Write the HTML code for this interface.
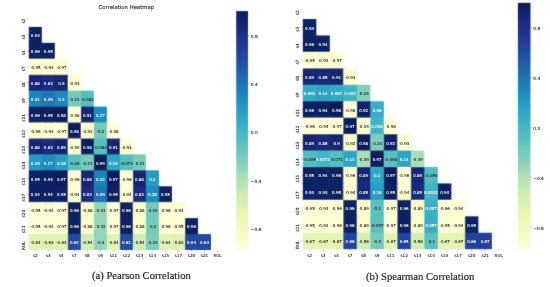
<!DOCTYPE html>
<html><head><meta charset="utf-8"><title>Correlation Heatmaps</title>
<style>
html,body{margin:0;padding:0;background:#fff;}
body{width:550px;height:287px;overflow:hidden;position:relative;}
svg{position:absolute;left:0;top:0;display:block;}
svg text{font-family:"DejaVu Sans","Liberation Sans",sans-serif;stroke-width:0.1px;text-rendering:geometricPrecision;}
svg text.d{stroke:#262626;}
svg text.w{stroke:#fff;}
.cap{position:absolute;font-family:"Liberation Serif",serif;font-size:11.1px;transform:scaleX(0.955);transform-origin:0 0;-webkit-text-stroke:0.15px #1a1a1a;color:#1a1a1a;white-space:nowrap;line-height:1;}
</style></head><body>
<svg width="550" height="287" viewBox="0 0 550 287">
<defs><linearGradient id="g" x1="0" y1="0" x2="0" y2="1"><stop offset="0.0000" stop-color="#081d58"/><stop offset="0.0312" stop-color="#0f2367"/><stop offset="0.0625" stop-color="#162874"/><stop offset="0.0938" stop-color="#1d2e83"/><stop offset="0.1250" stop-color="#243392"/><stop offset="0.1562" stop-color="#243d98"/><stop offset="0.1875" stop-color="#24489d"/><stop offset="0.2188" stop-color="#2352a3"/><stop offset="0.2500" stop-color="#225ea8"/><stop offset="0.2812" stop-color="#216aad"/><stop offset="0.3125" stop-color="#2076b3"/><stop offset="0.3438" stop-color="#1e83ba"/><stop offset="0.3750" stop-color="#1d90c0"/><stop offset="0.4062" stop-color="#259ac1"/><stop offset="0.4375" stop-color="#2ea3c2"/><stop offset="0.4688" stop-color="#37acc3"/><stop offset="0.5000" stop-color="#40b5c4"/><stop offset="0.5312" stop-color="#50bbc2"/><stop offset="0.5625" stop-color="#5fc1c0"/><stop offset="0.5938" stop-color="#6fc7bd"/><stop offset="0.6250" stop-color="#80cebb"/><stop offset="0.6562" stop-color="#90d4b9"/><stop offset="0.6875" stop-color="#a5dcb7"/><stop offset="0.7188" stop-color="#b4e2b6"/><stop offset="0.7500" stop-color="#c6e9b4"/><stop offset="0.7812" stop-color="#d0edb3"/><stop offset="0.8125" stop-color="#daf0b3"/><stop offset="0.8438" stop-color="#e5f5b2"/><stop offset="0.8750" stop-color="#edf8b1"/><stop offset="0.9062" stop-color="#f2fabc"/><stop offset="0.9375" stop-color="#f6fbc5"/><stop offset="0.9688" stop-color="#fbfdd0"/><stop offset="1.0000" stop-color="#ffffd9"/></linearGradient><filter id="b" x="0" y="0" width="550" height="287" filterUnits="userSpaceOnUse"><feConvolveMatrix order="3" kernelMatrix="0 1 0 1 5 1 0 1 0" divisor="9" edgeMode="duplicate" preserveAlpha="false"/></filter></defs>
<g filter="url(#b)">
<rect x="28.80" y="26.93" width="13.01" height="16.93" fill="#0e2265"/>
<rect x="28.80" y="42.87" width="14.01" height="16.93" fill="#0d2161"/>
<rect x="41.81" y="42.87" width="13.01" height="16.93" fill="#0d2163"/>
<rect x="28.80" y="58.80" width="14.01" height="16.93" fill="#fdfed5"/>
<rect x="41.81" y="58.80" width="14.01" height="16.93" fill="#fcfed1"/>
<rect x="54.83" y="58.80" width="13.01" height="16.93" fill="#feffd8"/>
<rect x="28.80" y="74.73" width="14.01" height="16.93" fill="#162874"/>
<rect x="41.81" y="74.73" width="14.01" height="16.93" fill="#1b2c80"/>
<rect x="54.83" y="74.73" width="14.01" height="16.93" fill="#13266f"/>
<rect x="67.84" y="74.73" width="13.01" height="16.93" fill="#fcfed1"/>
<rect x="28.80" y="90.67" width="14.01" height="16.93" fill="#1e86bb"/>
<rect x="41.81" y="90.67" width="14.01" height="16.93" fill="#2075b3"/>
<rect x="54.83" y="90.67" width="14.01" height="16.93" fill="#1e88bc"/>
<rect x="67.84" y="90.67" width="14.01" height="16.93" fill="#78cbbc"/>
<rect x="80.85" y="90.67" width="13.01" height="16.93" fill="#57bec1"/>
<rect x="28.80" y="106.60" width="14.01" height="16.93" fill="#0d2161"/>
<rect x="41.81" y="106.60" width="14.01" height="16.93" fill="#0d2163"/>
<rect x="54.83" y="106.60" width="14.01" height="16.93" fill="#0a1e5c"/>
<rect x="67.84" y="106.60" width="14.01" height="16.93" fill="#ffffd9"/>
<rect x="80.85" y="106.60" width="14.01" height="16.93" fill="#12256d"/>
<rect x="93.87" y="106.60" width="13.01" height="16.93" fill="#1d8ebf"/>
<rect x="28.80" y="122.53" width="14.01" height="16.93" fill="#feffd6"/>
<rect x="41.81" y="122.53" width="14.01" height="16.93" fill="#fcfed1"/>
<rect x="54.83" y="122.53" width="14.01" height="16.93" fill="#feffd8"/>
<rect x="67.84" y="122.53" width="14.01" height="16.93" fill="#0a1e5c"/>
<rect x="80.85" y="122.53" width="14.01" height="16.93" fill="#fcfed1"/>
<rect x="93.87" y="122.53" width="14.01" height="16.93" fill="#76cabc"/>
<rect x="106.88" y="122.53" width="13.01" height="16.93" fill="#ffffd9"/>
<rect x="28.80" y="138.47" width="14.01" height="16.93" fill="#162874"/>
<rect x="41.81" y="138.47" width="14.01" height="16.93" fill="#1b2c80"/>
<rect x="54.83" y="138.47" width="14.01" height="16.93" fill="#152772"/>
<rect x="67.84" y="138.47" width="14.01" height="16.93" fill="#fbfdd0"/>
<rect x="80.85" y="138.47" width="14.01" height="16.93" fill="#0a1e5c"/>
<rect x="93.87" y="138.47" width="14.01" height="16.93" fill="#59bfc0"/>
<rect x="106.88" y="138.47" width="14.01" height="16.93" fill="#12256d"/>
<rect x="119.89" y="138.47" width="13.01" height="16.93" fill="#fcfed1"/>
<rect x="28.80" y="154.40" width="14.01" height="16.93" fill="#269bc1"/>
<rect x="41.81" y="154.40" width="14.01" height="16.93" fill="#1d8ebf"/>
<rect x="54.83" y="154.40" width="14.01" height="16.93" fill="#299dc1"/>
<rect x="67.84" y="154.40" width="14.01" height="16.93" fill="#59bfc0"/>
<rect x="80.85" y="154.40" width="14.01" height="16.93" fill="#78cbbc"/>
<rect x="93.87" y="154.40" width="14.01" height="16.93" fill="#091e5a"/>
<rect x="106.88" y="154.40" width="14.01" height="16.93" fill="#2ea3c2"/>
<rect x="119.89" y="154.40" width="14.01" height="16.93" fill="#55bec1"/>
<rect x="132.91" y="154.40" width="13.01" height="16.93" fill="#78cbbc"/>
<rect x="28.80" y="170.33" width="14.01" height="16.93" fill="#0d2163"/>
<rect x="41.81" y="170.33" width="14.01" height="16.93" fill="#0e2265"/>
<rect x="54.83" y="170.33" width="14.01" height="16.93" fill="#0b1f5e"/>
<rect x="67.84" y="170.33" width="14.01" height="16.93" fill="#feffd6"/>
<rect x="80.85" y="170.33" width="14.01" height="16.93" fill="#162874"/>
<rect x="93.87" y="170.33" width="14.01" height="16.93" fill="#1e83ba"/>
<rect x="106.88" y="170.33" width="14.01" height="16.93" fill="#0b1f5e"/>
<rect x="119.89" y="170.33" width="14.01" height="16.93" fill="#feffd6"/>
<rect x="132.91" y="170.33" width="14.01" height="16.93" fill="#162874"/>
<rect x="145.92" y="170.33" width="13.01" height="16.93" fill="#259ac1"/>
<rect x="28.80" y="186.27" width="14.01" height="16.93" fill="#0e2265"/>
<rect x="41.81" y="186.27" width="14.01" height="16.93" fill="#0e2265"/>
<rect x="54.83" y="186.27" width="14.01" height="16.93" fill="#0d2163"/>
<rect x="67.84" y="186.27" width="14.01" height="16.93" fill="#fcfed3"/>
<rect x="80.85" y="186.27" width="14.01" height="16.93" fill="#1b2c80"/>
<rect x="93.87" y="186.27" width="14.01" height="16.93" fill="#2075b3"/>
<rect x="106.88" y="186.27" width="14.01" height="16.93" fill="#0d2163"/>
<rect x="119.89" y="186.27" width="14.01" height="16.93" fill="#fcfed3"/>
<rect x="132.91" y="186.27" width="14.01" height="16.93" fill="#1b2c80"/>
<rect x="145.92" y="186.27" width="14.01" height="16.93" fill="#1d8dbe"/>
<rect x="158.93" y="186.27" width="13.01" height="16.93" fill="#0d2163"/>
<rect x="28.80" y="202.20" width="14.01" height="16.93" fill="#fdfed5"/>
<rect x="41.81" y="202.20" width="14.01" height="16.93" fill="#fcfed3"/>
<rect x="54.83" y="202.20" width="14.01" height="16.93" fill="#feffd8"/>
<rect x="67.84" y="202.20" width="14.01" height="16.93" fill="#0d2161"/>
<rect x="80.85" y="202.20" width="14.01" height="16.93" fill="#f8fcca"/>
<rect x="93.87" y="202.20" width="14.01" height="16.93" fill="#95d5b9"/>
<rect x="106.88" y="202.20" width="14.01" height="16.93" fill="#feffd8"/>
<rect x="119.89" y="202.20" width="14.01" height="16.93" fill="#0d2161"/>
<rect x="132.91" y="202.20" width="14.01" height="16.93" fill="#f8fcca"/>
<rect x="145.92" y="202.20" width="14.01" height="16.93" fill="#73c8bd"/>
<rect x="158.93" y="202.20" width="14.01" height="16.93" fill="#feffd6"/>
<rect x="171.95" y="202.20" width="13.01" height="16.93" fill="#fcfed3"/>
<rect x="28.80" y="218.13" width="14.01" height="16.93" fill="#fdfed5"/>
<rect x="41.81" y="218.13" width="14.01" height="16.93" fill="#fcfed3"/>
<rect x="54.83" y="218.13" width="14.01" height="16.93" fill="#feffd8"/>
<rect x="67.84" y="218.13" width="14.01" height="16.93" fill="#0d2161"/>
<rect x="80.85" y="218.13" width="14.01" height="16.93" fill="#f8fcca"/>
<rect x="93.87" y="218.13" width="14.01" height="16.93" fill="#97d6b9"/>
<rect x="106.88" y="218.13" width="14.01" height="16.93" fill="#feffd8"/>
<rect x="119.89" y="218.13" width="14.01" height="16.93" fill="#0d2161"/>
<rect x="132.91" y="218.13" width="14.01" height="16.93" fill="#f8fcca"/>
<rect x="145.92" y="218.13" width="14.01" height="16.93" fill="#76cabc"/>
<rect x="158.93" y="218.13" width="14.01" height="16.93" fill="#feffd6"/>
<rect x="171.95" y="218.13" width="14.01" height="16.93" fill="#fdfed5"/>
<rect x="184.96" y="218.13" width="13.01" height="16.93" fill="#0d2161"/>
<rect x="28.80" y="234.07" width="14.01" height="15.93" fill="#e0f3b2"/>
<rect x="41.81" y="234.07" width="14.01" height="15.93" fill="#ddf2b2"/>
<rect x="54.83" y="234.07" width="14.01" height="15.93" fill="#e0f3b2"/>
<rect x="67.84" y="234.07" width="14.01" height="15.93" fill="#234b9f"/>
<rect x="80.85" y="234.07" width="14.01" height="15.93" fill="#d0edb3"/>
<rect x="93.87" y="234.07" width="14.01" height="15.93" fill="#92d5b9"/>
<rect x="106.88" y="234.07" width="14.01" height="15.93" fill="#e0f3b2"/>
<rect x="119.89" y="234.07" width="14.01" height="15.93" fill="#234b9f"/>
<rect x="132.91" y="234.07" width="14.01" height="15.93" fill="#d0edb3"/>
<rect x="145.92" y="234.07" width="14.01" height="15.93" fill="#7ecdbb"/>
<rect x="158.93" y="234.07" width="14.01" height="15.93" fill="#e0f3b2"/>
<rect x="171.95" y="234.07" width="14.01" height="15.93" fill="#ddf2b2"/>
<rect x="184.96" y="234.07" width="14.01" height="15.93" fill="#24489d"/>
<rect x="197.97" y="234.07" width="13.01" height="15.93" fill="#24489d"/>
<line x1="35.31" y1="250.00" x2="35.31" y2="251.40" stroke="#333" stroke-width="0.4"/>
<line x1="27.40" y1="18.97" x2="28.80" y2="18.97" stroke="#333" stroke-width="0.4"/>
<line x1="48.32" y1="250.00" x2="48.32" y2="251.40" stroke="#333" stroke-width="0.4"/>
<line x1="27.40" y1="34.90" x2="28.80" y2="34.90" stroke="#333" stroke-width="0.4"/>
<line x1="61.33" y1="250.00" x2="61.33" y2="251.40" stroke="#333" stroke-width="0.4"/>
<line x1="27.40" y1="50.83" x2="28.80" y2="50.83" stroke="#333" stroke-width="0.4"/>
<line x1="74.35" y1="250.00" x2="74.35" y2="251.40" stroke="#333" stroke-width="0.4"/>
<line x1="27.40" y1="66.77" x2="28.80" y2="66.77" stroke="#333" stroke-width="0.4"/>
<line x1="87.36" y1="250.00" x2="87.36" y2="251.40" stroke="#333" stroke-width="0.4"/>
<line x1="27.40" y1="82.70" x2="28.80" y2="82.70" stroke="#333" stroke-width="0.4"/>
<line x1="100.37" y1="250.00" x2="100.37" y2="251.40" stroke="#333" stroke-width="0.4"/>
<line x1="27.40" y1="98.63" x2="28.80" y2="98.63" stroke="#333" stroke-width="0.4"/>
<line x1="113.39" y1="250.00" x2="113.39" y2="251.40" stroke="#333" stroke-width="0.4"/>
<line x1="27.40" y1="114.57" x2="28.80" y2="114.57" stroke="#333" stroke-width="0.4"/>
<line x1="126.40" y1="250.00" x2="126.40" y2="251.40" stroke="#333" stroke-width="0.4"/>
<line x1="27.40" y1="130.50" x2="28.80" y2="130.50" stroke="#333" stroke-width="0.4"/>
<line x1="139.41" y1="250.00" x2="139.41" y2="251.40" stroke="#333" stroke-width="0.4"/>
<line x1="27.40" y1="146.43" x2="28.80" y2="146.43" stroke="#333" stroke-width="0.4"/>
<line x1="152.43" y1="250.00" x2="152.43" y2="251.40" stroke="#333" stroke-width="0.4"/>
<line x1="27.40" y1="162.37" x2="28.80" y2="162.37" stroke="#333" stroke-width="0.4"/>
<line x1="165.44" y1="250.00" x2="165.44" y2="251.40" stroke="#333" stroke-width="0.4"/>
<line x1="27.40" y1="178.30" x2="28.80" y2="178.30" stroke="#333" stroke-width="0.4"/>
<line x1="178.45" y1="250.00" x2="178.45" y2="251.40" stroke="#333" stroke-width="0.4"/>
<line x1="27.40" y1="194.23" x2="28.80" y2="194.23" stroke="#333" stroke-width="0.4"/>
<line x1="191.47" y1="250.00" x2="191.47" y2="251.40" stroke="#333" stroke-width="0.4"/>
<line x1="27.40" y1="210.17" x2="28.80" y2="210.17" stroke="#333" stroke-width="0.4"/>
<line x1="204.48" y1="250.00" x2="204.48" y2="251.40" stroke="#333" stroke-width="0.4"/>
<line x1="27.40" y1="226.10" x2="28.80" y2="226.10" stroke="#333" stroke-width="0.4"/>
<line x1="217.49" y1="250.00" x2="217.49" y2="251.40" stroke="#333" stroke-width="0.4"/>
<line x1="27.40" y1="242.03" x2="28.80" y2="242.03" stroke="#333" stroke-width="0.4"/>
<rect x="236.2" y="11.1" width="11.800000000000011" height="238.1" fill="url(#g)"/>
<line x1="248.0" y1="35.84" x2="249.4" y2="35.84" stroke="#333" stroke-width="0.4"/>
<line x1="248.0" y1="83.92" x2="249.4" y2="83.92" stroke="#333" stroke-width="0.4"/>
<line x1="248.0" y1="132.00" x2="249.4" y2="132.00" stroke="#333" stroke-width="0.4"/>
<line x1="248.0" y1="180.08" x2="249.4" y2="180.08" stroke="#333" stroke-width="0.4"/>
<line x1="248.0" y1="228.16" x2="249.4" y2="228.16" stroke="#333" stroke-width="0.4"/>
<rect x="302.80" y="19.04" width="13.51" height="17.44" fill="#102369"/>
<rect x="302.80" y="35.48" width="14.51" height="17.44" fill="#0d2161"/>
<rect x="316.31" y="35.48" width="13.51" height="17.44" fill="#0e2265"/>
<rect x="302.80" y="51.92" width="14.51" height="17.44" fill="#fdfed5"/>
<rect x="316.31" y="51.92" width="14.51" height="17.44" fill="#fcfed1"/>
<rect x="329.81" y="51.92" width="13.51" height="17.44" fill="#feffd8"/>
<rect x="302.80" y="68.36" width="14.51" height="17.44" fill="#152772"/>
<rect x="316.31" y="68.36" width="14.51" height="17.44" fill="#192b7c"/>
<rect x="329.81" y="68.36" width="14.51" height="17.44" fill="#12256d"/>
<rect x="343.32" y="68.36" width="13.51" height="17.44" fill="#fcfed1"/>
<rect x="302.80" y="84.80" width="14.51" height="17.44" fill="#35aac3"/>
<rect x="316.31" y="84.80" width="14.51" height="17.44" fill="#2ea3c2"/>
<rect x="329.81" y="84.80" width="14.51" height="17.44" fill="#36abc3"/>
<rect x="343.32" y="84.80" width="14.51" height="17.44" fill="#3eb3c4"/>
<rect x="356.83" y="84.80" width="13.51" height="17.44" fill="#80cebb"/>
<rect x="302.80" y="101.24" width="14.51" height="17.44" fill="#0d2161"/>
<rect x="316.31" y="101.24" width="14.51" height="17.44" fill="#0e2265"/>
<rect x="329.81" y="101.24" width="14.51" height="17.44" fill="#0a1e5c"/>
<rect x="343.32" y="101.24" width="14.51" height="17.44" fill="#ffffd9"/>
<rect x="356.83" y="101.24" width="14.51" height="17.44" fill="#11246b"/>
<rect x="370.33" y="101.24" width="13.51" height="17.44" fill="#3aaec3"/>
<rect x="302.80" y="117.68" width="14.51" height="17.44" fill="#feffd6"/>
<rect x="316.31" y="117.68" width="14.51" height="17.44" fill="#fcfed3"/>
<rect x="329.81" y="117.68" width="14.51" height="17.44" fill="#feffd8"/>
<rect x="343.32" y="117.68" width="14.51" height="17.44" fill="#0b1f5e"/>
<rect x="356.83" y="117.68" width="14.51" height="17.44" fill="#fcfed1"/>
<rect x="370.33" y="117.68" width="14.51" height="17.44" fill="#3fb4c4"/>
<rect x="383.84" y="117.68" width="13.51" height="17.44" fill="#ffffd9"/>
<rect x="302.80" y="134.12" width="14.51" height="17.44" fill="#152772"/>
<rect x="316.31" y="134.12" width="14.51" height="17.44" fill="#192b7c"/>
<rect x="329.81" y="134.12" width="14.51" height="17.44" fill="#13266f"/>
<rect x="343.32" y="134.12" width="14.51" height="17.44" fill="#fbfdd0"/>
<rect x="356.83" y="134.12" width="14.51" height="17.44" fill="#0a1e5c"/>
<rect x="370.33" y="134.12" width="14.51" height="17.44" fill="#80cebb"/>
<rect x="383.84" y="134.12" width="14.51" height="17.44" fill="#11246b"/>
<rect x="397.35" y="134.12" width="13.51" height="17.44" fill="#fcfed1"/>
<rect x="302.80" y="150.56" width="14.51" height="17.44" fill="#53bdc1"/>
<rect x="316.31" y="150.56" width="14.51" height="17.44" fill="#42b6c4"/>
<rect x="329.81" y="150.56" width="14.51" height="17.44" fill="#55bec1"/>
<rect x="343.32" y="150.56" width="14.51" height="17.44" fill="#2fa4c2"/>
<rect x="356.83" y="150.56" width="14.51" height="17.44" fill="#abdeb7"/>
<rect x="370.33" y="150.56" width="14.51" height="17.44" fill="#0b1f5e"/>
<rect x="383.84" y="150.56" width="14.51" height="17.44" fill="#5bc0c0"/>
<rect x="397.35" y="150.56" width="14.51" height="17.44" fill="#2ea3c2"/>
<rect x="410.85" y="150.56" width="13.51" height="17.44" fill="#abdeb7"/>
<rect x="302.80" y="167.00" width="14.51" height="17.44" fill="#0d2163"/>
<rect x="316.31" y="167.00" width="14.51" height="17.44" fill="#0e2265"/>
<rect x="329.81" y="167.00" width="14.51" height="17.44" fill="#0d2161"/>
<rect x="343.32" y="167.00" width="14.51" height="17.44" fill="#feffd6"/>
<rect x="356.83" y="167.00" width="14.51" height="17.44" fill="#152772"/>
<rect x="370.33" y="167.00" width="14.51" height="17.44" fill="#34a9c3"/>
<rect x="383.84" y="167.00" width="14.51" height="17.44" fill="#0b1f5e"/>
<rect x="397.35" y="167.00" width="14.51" height="17.44" fill="#feffd6"/>
<rect x="410.85" y="167.00" width="14.51" height="17.44" fill="#152772"/>
<rect x="424.36" y="167.00" width="13.51" height="17.44" fill="#52bcc2"/>
<rect x="302.80" y="183.44" width="14.51" height="17.44" fill="#102369"/>
<rect x="316.31" y="183.44" width="14.51" height="17.44" fill="#102369"/>
<rect x="329.81" y="183.44" width="14.51" height="17.44" fill="#0d2163"/>
<rect x="343.32" y="183.44" width="14.51" height="17.44" fill="#fcfed3"/>
<rect x="356.83" y="183.44" width="14.51" height="17.44" fill="#192b7c"/>
<rect x="370.33" y="183.44" width="14.51" height="17.44" fill="#2b9fc2"/>
<rect x="383.84" y="183.44" width="14.51" height="17.44" fill="#0d2163"/>
<rect x="397.35" y="183.44" width="14.51" height="17.44" fill="#fcfed3"/>
<rect x="410.85" y="183.44" width="14.51" height="17.44" fill="#192b7c"/>
<rect x="424.36" y="183.44" width="14.51" height="17.44" fill="#42b6c4"/>
<rect x="437.87" y="183.44" width="13.51" height="17.44" fill="#0e2265"/>
<rect x="302.80" y="199.88" width="14.51" height="17.44" fill="#fdfed5"/>
<rect x="316.31" y="199.88" width="14.51" height="17.44" fill="#fcfed1"/>
<rect x="329.81" y="199.88" width="14.51" height="17.44" fill="#feffd6"/>
<rect x="343.32" y="199.88" width="14.51" height="17.44" fill="#0d2161"/>
<rect x="356.83" y="199.88" width="14.51" height="17.44" fill="#f9fdcb"/>
<rect x="370.33" y="199.88" width="14.51" height="17.44" fill="#5dc0c0"/>
<rect x="383.84" y="199.88" width="14.51" height="17.44" fill="#feffd8"/>
<rect x="397.35" y="199.88" width="14.51" height="17.44" fill="#0d2161"/>
<rect x="410.85" y="199.88" width="14.51" height="17.44" fill="#f9fdcb"/>
<rect x="424.36" y="199.88" width="14.51" height="17.44" fill="#3aaec3"/>
<rect x="437.87" y="199.88" width="14.51" height="17.44" fill="#feffd6"/>
<rect x="451.37" y="199.88" width="13.51" height="17.44" fill="#fcfed3"/>
<rect x="302.80" y="216.32" width="14.51" height="17.44" fill="#fdfed5"/>
<rect x="316.31" y="216.32" width="14.51" height="17.44" fill="#fcfed1"/>
<rect x="329.81" y="216.32" width="14.51" height="17.44" fill="#feffd6"/>
<rect x="343.32" y="216.32" width="14.51" height="17.44" fill="#0d2161"/>
<rect x="356.83" y="216.32" width="14.51" height="17.44" fill="#f9fdcb"/>
<rect x="370.33" y="216.32" width="14.51" height="17.44" fill="#5bc0c0"/>
<rect x="383.84" y="216.32" width="14.51" height="17.44" fill="#feffd8"/>
<rect x="397.35" y="216.32" width="14.51" height="17.44" fill="#0d2161"/>
<rect x="410.85" y="216.32" width="14.51" height="17.44" fill="#f9fdcb"/>
<rect x="424.36" y="216.32" width="14.51" height="17.44" fill="#3aaec3"/>
<rect x="437.87" y="216.32" width="14.51" height="17.44" fill="#fdfed5"/>
<rect x="451.37" y="216.32" width="14.51" height="17.44" fill="#fcfed3"/>
<rect x="464.88" y="216.32" width="13.51" height="17.44" fill="#0d2163"/>
<rect x="302.80" y="232.76" width="14.51" height="16.44" fill="#e3f4b2"/>
<rect x="316.31" y="232.76" width="14.51" height="16.44" fill="#e3f4b2"/>
<rect x="329.81" y="232.76" width="14.51" height="16.44" fill="#e3f4b2"/>
<rect x="343.32" y="232.76" width="14.51" height="16.44" fill="#24439b"/>
<rect x="356.83" y="232.76" width="14.51" height="16.44" fill="#d3eeb3"/>
<rect x="370.33" y="232.76" width="14.51" height="16.44" fill="#76cabc"/>
<rect x="383.84" y="232.76" width="14.51" height="16.44" fill="#e3f4b2"/>
<rect x="397.35" y="232.76" width="14.51" height="16.44" fill="#24459c"/>
<rect x="410.85" y="232.76" width="14.51" height="16.44" fill="#d3eeb3"/>
<rect x="424.36" y="232.76" width="14.51" height="16.44" fill="#5dc0c0"/>
<rect x="437.87" y="232.76" width="14.51" height="16.44" fill="#e3f4b2"/>
<rect x="451.37" y="232.76" width="14.51" height="16.44" fill="#e3f4b2"/>
<rect x="464.88" y="232.76" width="14.51" height="16.44" fill="#24439b"/>
<rect x="478.39" y="232.76" width="13.51" height="16.44" fill="#24419a"/>
<line x1="309.55" y1="249.20" x2="309.55" y2="250.60" stroke="#333" stroke-width="0.4"/>
<line x1="301.40" y1="10.82" x2="302.80" y2="10.82" stroke="#333" stroke-width="0.4"/>
<line x1="323.06" y1="249.20" x2="323.06" y2="250.60" stroke="#333" stroke-width="0.4"/>
<line x1="301.40" y1="27.26" x2="302.80" y2="27.26" stroke="#333" stroke-width="0.4"/>
<line x1="336.57" y1="249.20" x2="336.57" y2="250.60" stroke="#333" stroke-width="0.4"/>
<line x1="301.40" y1="43.70" x2="302.80" y2="43.70" stroke="#333" stroke-width="0.4"/>
<line x1="350.07" y1="249.20" x2="350.07" y2="250.60" stroke="#333" stroke-width="0.4"/>
<line x1="301.40" y1="60.14" x2="302.80" y2="60.14" stroke="#333" stroke-width="0.4"/>
<line x1="363.58" y1="249.20" x2="363.58" y2="250.60" stroke="#333" stroke-width="0.4"/>
<line x1="301.40" y1="76.58" x2="302.80" y2="76.58" stroke="#333" stroke-width="0.4"/>
<line x1="377.09" y1="249.20" x2="377.09" y2="250.60" stroke="#333" stroke-width="0.4"/>
<line x1="301.40" y1="93.02" x2="302.80" y2="93.02" stroke="#333" stroke-width="0.4"/>
<line x1="390.59" y1="249.20" x2="390.59" y2="250.60" stroke="#333" stroke-width="0.4"/>
<line x1="301.40" y1="109.46" x2="302.80" y2="109.46" stroke="#333" stroke-width="0.4"/>
<line x1="404.10" y1="249.20" x2="404.10" y2="250.60" stroke="#333" stroke-width="0.4"/>
<line x1="301.40" y1="125.90" x2="302.80" y2="125.90" stroke="#333" stroke-width="0.4"/>
<line x1="417.61" y1="249.20" x2="417.61" y2="250.60" stroke="#333" stroke-width="0.4"/>
<line x1="301.40" y1="142.34" x2="302.80" y2="142.34" stroke="#333" stroke-width="0.4"/>
<line x1="431.11" y1="249.20" x2="431.11" y2="250.60" stroke="#333" stroke-width="0.4"/>
<line x1="301.40" y1="158.78" x2="302.80" y2="158.78" stroke="#333" stroke-width="0.4"/>
<line x1="444.62" y1="249.20" x2="444.62" y2="250.60" stroke="#333" stroke-width="0.4"/>
<line x1="301.40" y1="175.22" x2="302.80" y2="175.22" stroke="#333" stroke-width="0.4"/>
<line x1="458.13" y1="249.20" x2="458.13" y2="250.60" stroke="#333" stroke-width="0.4"/>
<line x1="301.40" y1="191.66" x2="302.80" y2="191.66" stroke="#333" stroke-width="0.4"/>
<line x1="471.63" y1="249.20" x2="471.63" y2="250.60" stroke="#333" stroke-width="0.4"/>
<line x1="301.40" y1="208.10" x2="302.80" y2="208.10" stroke="#333" stroke-width="0.4"/>
<line x1="485.14" y1="249.20" x2="485.14" y2="250.60" stroke="#333" stroke-width="0.4"/>
<line x1="301.40" y1="224.54" x2="302.80" y2="224.54" stroke="#333" stroke-width="0.4"/>
<line x1="498.65" y1="249.20" x2="498.65" y2="250.60" stroke="#333" stroke-width="0.4"/>
<line x1="301.40" y1="240.98" x2="302.80" y2="240.98" stroke="#333" stroke-width="0.4"/>
<rect x="517.9" y="2.8" width="12.600000000000023" height="246.79999999999998" fill="url(#g)"/>
<line x1="530.5" y1="27.68" x2="531.9" y2="27.68" stroke="#333" stroke-width="0.4"/>
<line x1="530.5" y1="77.64" x2="531.9" y2="77.64" stroke="#333" stroke-width="0.4"/>
<line x1="530.5" y1="127.60" x2="531.9" y2="127.60" stroke="#333" stroke-width="0.4"/>
<line x1="530.5" y1="177.56" x2="531.9" y2="177.56" stroke="#333" stroke-width="0.4"/>
<line x1="530.5" y1="227.52" x2="531.9" y2="227.52" stroke="#333" stroke-width="0.4"/>
</g>
<g>
<text x="35.31" y="37.14" font-size="4.0" class="w" fill="#ffffff" text-anchor="middle">0.94</text>
<text x="35.31" y="53.07" font-size="4.0" class="w" fill="#ffffff" text-anchor="middle">0.96</text>
<text x="48.32" y="53.07" font-size="4.0" class="w" fill="#ffffff" text-anchor="middle">0.95</text>
<text x="35.31" y="69.01" font-size="4.0" class="d" fill="#262626" text-anchor="middle">-0.95</text>
<text x="48.32" y="69.01" font-size="4.0" class="d" fill="#262626" text-anchor="middle">-0.93</text>
<text x="61.33" y="69.01" font-size="4.0" class="d" fill="#262626" text-anchor="middle">-0.97</text>
<text x="35.31" y="84.94" font-size="4.0" class="w" fill="#ffffff" text-anchor="middle">0.88</text>
<text x="48.32" y="84.94" font-size="4.0" class="w" fill="#ffffff" text-anchor="middle">0.83</text>
<text x="61.33" y="84.94" font-size="4.0" class="w" fill="#ffffff" text-anchor="middle">0.9</text>
<text x="74.35" y="84.94" font-size="4.0" class="d" fill="#262626" text-anchor="middle">-0.93</text>
<text x="35.31" y="100.87" font-size="4.0" class="w" fill="#ffffff" text-anchor="middle">0.31</text>
<text x="48.32" y="100.87" font-size="4.0" class="w" fill="#ffffff" text-anchor="middle">0.39</text>
<text x="61.33" y="100.87" font-size="4.0" class="w" fill="#ffffff" text-anchor="middle">0.3</text>
<text x="74.35" y="100.87" font-size="4.0" class="d" fill="#262626" text-anchor="middle">-0.21</text>
<text x="87.36" y="100.87" font-size="4.0" class="d" fill="#262626" text-anchor="middle">-0.082</text>
<text x="35.31" y="116.81" font-size="4.0" class="w" fill="#ffffff" text-anchor="middle">0.96</text>
<text x="48.32" y="116.81" font-size="4.0" class="w" fill="#ffffff" text-anchor="middle">0.95</text>
<text x="61.33" y="116.81" font-size="4.0" class="w" fill="#ffffff" text-anchor="middle">0.98</text>
<text x="74.35" y="116.81" font-size="4.0" class="d" fill="#262626" text-anchor="middle">-0.98</text>
<text x="87.36" y="116.81" font-size="4.0" class="w" fill="#ffffff" text-anchor="middle">0.91</text>
<text x="100.37" y="116.81" font-size="4.0" class="w" fill="#ffffff" text-anchor="middle">0.27</text>
<text x="35.31" y="132.74" font-size="4.0" class="d" fill="#262626" text-anchor="middle">-0.96</text>
<text x="48.32" y="132.74" font-size="4.0" class="d" fill="#262626" text-anchor="middle">-0.93</text>
<text x="61.33" y="132.74" font-size="4.0" class="d" fill="#262626" text-anchor="middle">-0.97</text>
<text x="74.35" y="132.74" font-size="4.0" class="w" fill="#ffffff" text-anchor="middle">0.98</text>
<text x="87.36" y="132.74" font-size="4.0" class="d" fill="#262626" text-anchor="middle">-0.93</text>
<text x="100.37" y="132.74" font-size="4.0" class="d" fill="#262626" text-anchor="middle">-0.2</text>
<text x="113.39" y="132.74" font-size="4.0" class="d" fill="#262626" text-anchor="middle">-0.98</text>
<text x="35.31" y="148.67" font-size="4.0" class="w" fill="#ffffff" text-anchor="middle">0.88</text>
<text x="48.32" y="148.67" font-size="4.0" class="w" fill="#ffffff" text-anchor="middle">0.83</text>
<text x="61.33" y="148.67" font-size="4.0" class="w" fill="#ffffff" text-anchor="middle">0.89</text>
<text x="74.35" y="148.67" font-size="4.0" class="d" fill="#262626" text-anchor="middle">-0.92</text>
<text x="87.36" y="148.67" font-size="4.0" class="w" fill="#ffffff" text-anchor="middle">0.98</text>
<text x="100.37" y="148.67" font-size="4.0" class="d" fill="#262626" text-anchor="middle">-0.084</text>
<text x="113.39" y="148.67" font-size="4.0" class="w" fill="#ffffff" text-anchor="middle">0.91</text>
<text x="126.40" y="148.67" font-size="4.0" class="d" fill="#262626" text-anchor="middle">-0.93</text>
<text x="35.31" y="164.61" font-size="4.0" class="w" fill="#ffffff" text-anchor="middle">0.19</text>
<text x="48.32" y="164.61" font-size="4.0" class="w" fill="#ffffff" text-anchor="middle">0.27</text>
<text x="61.33" y="164.61" font-size="4.0" class="w" fill="#ffffff" text-anchor="middle">0.18</text>
<text x="74.35" y="164.61" font-size="4.0" class="d" fill="#262626" text-anchor="middle">-0.09</text>
<text x="87.36" y="164.61" font-size="4.0" class="d" fill="#262626" text-anchor="middle">-0.21</text>
<text x="100.37" y="164.61" font-size="4.0" class="w" fill="#ffffff" text-anchor="middle">0.99</text>
<text x="113.39" y="164.61" font-size="4.0" class="w" fill="#ffffff" text-anchor="middle">0.14</text>
<text x="126.40" y="164.61" font-size="4.0" class="d" fill="#262626" text-anchor="middle">-0.073</text>
<text x="139.41" y="164.61" font-size="4.0" class="d" fill="#262626" text-anchor="middle">-0.21</text>
<text x="35.31" y="180.54" font-size="4.0" class="w" fill="#ffffff" text-anchor="middle">0.95</text>
<text x="48.32" y="180.54" font-size="4.0" class="w" fill="#ffffff" text-anchor="middle">0.94</text>
<text x="61.33" y="180.54" font-size="4.0" class="w" fill="#ffffff" text-anchor="middle">0.97</text>
<text x="74.35" y="180.54" font-size="4.0" class="d" fill="#262626" text-anchor="middle">-0.96</text>
<text x="87.36" y="180.54" font-size="4.0" class="w" fill="#ffffff" text-anchor="middle">0.88</text>
<text x="100.37" y="180.54" font-size="4.0" class="w" fill="#ffffff" text-anchor="middle">0.32</text>
<text x="113.39" y="180.54" font-size="4.0" class="w" fill="#ffffff" text-anchor="middle">0.97</text>
<text x="126.40" y="180.54" font-size="4.0" class="d" fill="#262626" text-anchor="middle">-0.96</text>
<text x="139.41" y="180.54" font-size="4.0" class="w" fill="#ffffff" text-anchor="middle">0.88</text>
<text x="152.43" y="180.54" font-size="4.0" class="w" fill="#ffffff" text-anchor="middle">0.2</text>
<text x="35.31" y="196.47" font-size="4.0" class="w" fill="#ffffff" text-anchor="middle">0.94</text>
<text x="48.32" y="196.47" font-size="4.0" class="w" fill="#ffffff" text-anchor="middle">0.94</text>
<text x="61.33" y="196.47" font-size="4.0" class="w" fill="#ffffff" text-anchor="middle">0.95</text>
<text x="74.35" y="196.47" font-size="4.0" class="d" fill="#262626" text-anchor="middle">-0.94</text>
<text x="87.36" y="196.47" font-size="4.0" class="w" fill="#ffffff" text-anchor="middle">0.83</text>
<text x="100.37" y="196.47" font-size="4.0" class="w" fill="#ffffff" text-anchor="middle">0.39</text>
<text x="113.39" y="196.47" font-size="4.0" class="w" fill="#ffffff" text-anchor="middle">0.95</text>
<text x="126.40" y="196.47" font-size="4.0" class="d" fill="#262626" text-anchor="middle">-0.94</text>
<text x="139.41" y="196.47" font-size="4.0" class="w" fill="#ffffff" text-anchor="middle">0.83</text>
<text x="152.43" y="196.47" font-size="4.0" class="w" fill="#ffffff" text-anchor="middle">0.28</text>
<text x="165.44" y="196.47" font-size="4.0" class="w" fill="#ffffff" text-anchor="middle">0.95</text>
<text x="35.31" y="212.41" font-size="4.0" class="d" fill="#262626" text-anchor="middle">-0.95</text>
<text x="48.32" y="212.41" font-size="4.0" class="d" fill="#262626" text-anchor="middle">-0.94</text>
<text x="61.33" y="212.41" font-size="4.0" class="d" fill="#262626" text-anchor="middle">-0.97</text>
<text x="74.35" y="212.41" font-size="4.0" class="w" fill="#ffffff" text-anchor="middle">0.96</text>
<text x="87.36" y="212.41" font-size="4.0" class="d" fill="#262626" text-anchor="middle">-0.88</text>
<text x="100.37" y="212.41" font-size="4.0" class="d" fill="#262626" text-anchor="middle">-0.31</text>
<text x="113.39" y="212.41" font-size="4.0" class="d" fill="#262626" text-anchor="middle">-0.97</text>
<text x="126.40" y="212.41" font-size="4.0" class="w" fill="#ffffff" text-anchor="middle">0.96</text>
<text x="139.41" y="212.41" font-size="4.0" class="d" fill="#262626" text-anchor="middle">-0.88</text>
<text x="152.43" y="212.41" font-size="4.0" class="d" fill="#262626" text-anchor="middle">-0.19</text>
<text x="165.44" y="212.41" font-size="4.0" class="d" fill="#262626" text-anchor="middle">-0.96</text>
<text x="178.45" y="212.41" font-size="4.0" class="d" fill="#262626" text-anchor="middle">-0.94</text>
<text x="35.31" y="228.34" font-size="4.0" class="d" fill="#262626" text-anchor="middle">-0.95</text>
<text x="48.32" y="228.34" font-size="4.0" class="d" fill="#262626" text-anchor="middle">-0.94</text>
<text x="61.33" y="228.34" font-size="4.0" class="d" fill="#262626" text-anchor="middle">-0.97</text>
<text x="74.35" y="228.34" font-size="4.0" class="w" fill="#ffffff" text-anchor="middle">0.96</text>
<text x="87.36" y="228.34" font-size="4.0" class="d" fill="#262626" text-anchor="middle">-0.88</text>
<text x="100.37" y="228.34" font-size="4.0" class="d" fill="#262626" text-anchor="middle">-0.32</text>
<text x="113.39" y="228.34" font-size="4.0" class="d" fill="#262626" text-anchor="middle">-0.97</text>
<text x="126.40" y="228.34" font-size="4.0" class="w" fill="#ffffff" text-anchor="middle">0.96</text>
<text x="139.41" y="228.34" font-size="4.0" class="d" fill="#262626" text-anchor="middle">-0.88</text>
<text x="152.43" y="228.34" font-size="4.0" class="d" fill="#262626" text-anchor="middle">-0.2</text>
<text x="165.44" y="228.34" font-size="4.0" class="d" fill="#262626" text-anchor="middle">-0.96</text>
<text x="178.45" y="228.34" font-size="4.0" class="d" fill="#262626" text-anchor="middle">-0.95</text>
<text x="191.47" y="228.34" font-size="4.0" class="w" fill="#ffffff" text-anchor="middle">0.96</text>
<text x="35.31" y="244.27" font-size="4.0" class="d" fill="#262626" text-anchor="middle">-0.64</text>
<text x="48.32" y="244.27" font-size="4.0" class="d" fill="#262626" text-anchor="middle">-0.63</text>
<text x="61.33" y="244.27" font-size="4.0" class="d" fill="#262626" text-anchor="middle">-0.64</text>
<text x="74.35" y="244.27" font-size="4.0" class="w" fill="#ffffff" text-anchor="middle">0.62</text>
<text x="87.36" y="244.27" font-size="4.0" class="d" fill="#262626" text-anchor="middle">-0.54</text>
<text x="100.37" y="244.27" font-size="4.0" class="d" fill="#262626" text-anchor="middle">-0.3</text>
<text x="113.39" y="244.27" font-size="4.0" class="d" fill="#262626" text-anchor="middle">-0.64</text>
<text x="126.40" y="244.27" font-size="4.0" class="w" fill="#ffffff" text-anchor="middle">0.62</text>
<text x="139.41" y="244.27" font-size="4.0" class="d" fill="#262626" text-anchor="middle">-0.54</text>
<text x="152.43" y="244.27" font-size="4.0" class="d" fill="#262626" text-anchor="middle">-0.23</text>
<text x="165.44" y="244.27" font-size="4.0" class="d" fill="#262626" text-anchor="middle">-0.64</text>
<text x="178.45" y="244.27" font-size="4.0" class="d" fill="#262626" text-anchor="middle">-0.63</text>
<text x="191.47" y="244.27" font-size="4.0" class="w" fill="#ffffff" text-anchor="middle">0.63</text>
<text x="204.48" y="244.27" font-size="4.0" class="w" fill="#ffffff" text-anchor="middle">0.63</text>
<text x="35.31" y="257.30" font-size="4.1499999999999995" class="d" fill="#262626" text-anchor="middle">s2</text>
<text transform="translate(24.50,18.47) rotate(-90)" font-size="4.3" class="d" fill="#262626" text-anchor="end">s2</text>
<text x="48.32" y="257.30" font-size="4.1499999999999995" class="d" fill="#262626" text-anchor="middle">s3</text>
<text transform="translate(24.50,34.40) rotate(-90)" font-size="4.3" class="d" fill="#262626" text-anchor="end">s3</text>
<text x="61.33" y="257.30" font-size="4.1499999999999995" class="d" fill="#262626" text-anchor="middle">s4</text>
<text transform="translate(24.50,50.33) rotate(-90)" font-size="4.3" class="d" fill="#262626" text-anchor="end">s4</text>
<text x="74.35" y="257.30" font-size="4.1499999999999995" class="d" fill="#262626" text-anchor="middle">s7</text>
<text transform="translate(24.50,66.27) rotate(-90)" font-size="4.3" class="d" fill="#262626" text-anchor="end">s7</text>
<text x="87.36" y="257.30" font-size="4.1499999999999995" class="d" fill="#262626" text-anchor="middle">s8</text>
<text transform="translate(24.50,82.20) rotate(-90)" font-size="4.3" class="d" fill="#262626" text-anchor="end">s8</text>
<text x="100.37" y="257.30" font-size="4.1499999999999995" class="d" fill="#262626" text-anchor="middle">s9</text>
<text transform="translate(24.50,98.13) rotate(-90)" font-size="4.3" class="d" fill="#262626" text-anchor="end">s9</text>
<text x="113.39" y="257.30" font-size="4.1499999999999995" class="d" fill="#262626" text-anchor="middle">s11</text>
<text transform="translate(24.50,114.07) rotate(-90)" font-size="4.3" class="d" fill="#262626" text-anchor="end">s11</text>
<text x="126.40" y="257.30" font-size="4.1499999999999995" class="d" fill="#262626" text-anchor="middle">s12</text>
<text transform="translate(24.50,130.00) rotate(-90)" font-size="4.3" class="d" fill="#262626" text-anchor="end">s12</text>
<text x="139.41" y="257.30" font-size="4.1499999999999995" class="d" fill="#262626" text-anchor="middle">s13</text>
<text transform="translate(24.50,145.93) rotate(-90)" font-size="4.3" class="d" fill="#262626" text-anchor="end">s13</text>
<text x="152.43" y="257.30" font-size="4.1499999999999995" class="d" fill="#262626" text-anchor="middle">s14</text>
<text transform="translate(24.50,161.87) rotate(-90)" font-size="4.3" class="d" fill="#262626" text-anchor="end">s14</text>
<text x="165.44" y="257.30" font-size="4.1499999999999995" class="d" fill="#262626" text-anchor="middle">s15</text>
<text transform="translate(24.50,177.80) rotate(-90)" font-size="4.3" class="d" fill="#262626" text-anchor="end">s15</text>
<text x="178.45" y="257.30" font-size="4.1499999999999995" class="d" fill="#262626" text-anchor="middle">s17</text>
<text transform="translate(24.50,193.73) rotate(-90)" font-size="4.3" class="d" fill="#262626" text-anchor="end">s17</text>
<text x="191.47" y="257.30" font-size="4.1499999999999995" class="d" fill="#262626" text-anchor="middle">s20</text>
<text transform="translate(24.50,209.67) rotate(-90)" font-size="4.3" class="d" fill="#262626" text-anchor="end">s20</text>
<text x="204.48" y="257.30" font-size="4.1499999999999995" class="d" fill="#262626" text-anchor="middle">s21</text>
<text transform="translate(24.50,225.60) rotate(-90)" font-size="4.3" class="d" fill="#262626" text-anchor="end">s21</text>
<text x="217.49" y="257.30" font-size="4.1499999999999995" class="d" fill="#262626" text-anchor="middle">RUL</text>
<text transform="translate(24.50,241.53) rotate(-90)" font-size="4.3" class="d" fill="#262626" text-anchor="end">RUL</text>
<text x="250.8" y="38.29" font-size="4.3" class="d" fill="#262626">0.8</text>
<text x="250.8" y="86.37" font-size="4.3" class="d" fill="#262626">0.4</text>
<text x="250.8" y="134.45" font-size="4.3" class="d" fill="#262626">0.0</text>
<text x="250.8" y="182.53" font-size="4.3" class="d" fill="#262626">−0.4</text>
<text x="250.8" y="230.61" font-size="4.3" class="d" fill="#262626">−0.8</text>
<text x="126.40" y="9.00" font-size="5.35" class="d" fill="#262626" text-anchor="middle">Correlation Heatmap</text>
<text x="309.55" y="29.50" font-size="4.0" class="w" fill="#ffffff" text-anchor="middle">0.93</text>
<text x="309.55" y="45.94" font-size="4.0" class="w" fill="#ffffff" text-anchor="middle">0.96</text>
<text x="323.06" y="45.94" font-size="4.0" class="w" fill="#ffffff" text-anchor="middle">0.94</text>
<text x="309.55" y="62.38" font-size="4.0" class="d" fill="#262626" text-anchor="middle">-0.95</text>
<text x="323.06" y="62.38" font-size="4.0" class="d" fill="#262626" text-anchor="middle">-0.93</text>
<text x="336.57" y="62.38" font-size="4.0" class="d" fill="#262626" text-anchor="middle">-0.97</text>
<text x="309.55" y="78.82" font-size="4.0" class="w" fill="#ffffff" text-anchor="middle">0.89</text>
<text x="323.06" y="78.82" font-size="4.0" class="w" fill="#ffffff" text-anchor="middle">0.85</text>
<text x="336.57" y="78.82" font-size="4.0" class="w" fill="#ffffff" text-anchor="middle">0.91</text>
<text x="350.07" y="78.82" font-size="4.0" class="d" fill="#262626" text-anchor="middle">-0.93</text>
<text x="309.55" y="95.26" font-size="4.0" class="w" fill="#ffffff" text-anchor="middle">0.091</text>
<text x="323.06" y="95.26" font-size="4.0" class="w" fill="#ffffff" text-anchor="middle">0.14</text>
<text x="336.57" y="95.26" font-size="4.0" class="w" fill="#ffffff" text-anchor="middle">0.087</text>
<text x="350.07" y="95.26" font-size="4.0" class="w" fill="#ffffff" text-anchor="middle">0.032</text>
<text x="363.58" y="95.26" font-size="4.0" class="d" fill="#262626" text-anchor="middle">-0.24</text>
<text x="309.55" y="111.70" font-size="4.0" class="w" fill="#ffffff" text-anchor="middle">0.96</text>
<text x="323.06" y="111.70" font-size="4.0" class="w" fill="#ffffff" text-anchor="middle">0.94</text>
<text x="336.57" y="111.70" font-size="4.0" class="w" fill="#ffffff" text-anchor="middle">0.98</text>
<text x="350.07" y="111.70" font-size="4.0" class="d" fill="#262626" text-anchor="middle">-0.98</text>
<text x="363.58" y="111.70" font-size="4.0" class="w" fill="#ffffff" text-anchor="middle">0.92</text>
<text x="377.09" y="111.70" font-size="4.0" class="w" fill="#ffffff" text-anchor="middle">0.06</text>
<text x="309.55" y="128.14" font-size="4.0" class="d" fill="#262626" text-anchor="middle">-0.96</text>
<text x="323.06" y="128.14" font-size="4.0" class="d" fill="#262626" text-anchor="middle">-0.94</text>
<text x="336.57" y="128.14" font-size="4.0" class="d" fill="#262626" text-anchor="middle">-0.97</text>
<text x="350.07" y="128.14" font-size="4.0" class="w" fill="#ffffff" text-anchor="middle">0.97</text>
<text x="363.58" y="128.14" font-size="4.0" class="d" fill="#262626" text-anchor="middle">-0.93</text>
<text x="377.09" y="128.14" font-size="4.0" class="w" fill="#ffffff" text-anchor="middle">0.018</text>
<text x="390.59" y="128.14" font-size="4.0" class="d" fill="#262626" text-anchor="middle">-0.98</text>
<text x="309.55" y="144.58" font-size="4.0" class="w" fill="#ffffff" text-anchor="middle">0.89</text>
<text x="323.06" y="144.58" font-size="4.0" class="w" fill="#ffffff" text-anchor="middle">0.85</text>
<text x="336.57" y="144.58" font-size="4.0" class="w" fill="#ffffff" text-anchor="middle">0.9</text>
<text x="350.07" y="144.58" font-size="4.0" class="d" fill="#262626" text-anchor="middle">-0.92</text>
<text x="363.58" y="144.58" font-size="4.0" class="w" fill="#ffffff" text-anchor="middle">0.98</text>
<text x="377.09" y="144.58" font-size="4.0" class="d" fill="#262626" text-anchor="middle">-0.24</text>
<text x="390.59" y="144.58" font-size="4.0" class="w" fill="#ffffff" text-anchor="middle">0.92</text>
<text x="404.10" y="144.58" font-size="4.0" class="d" fill="#262626" text-anchor="middle">-0.93</text>
<text x="309.55" y="161.02" font-size="4.0" class="d" fill="#262626" text-anchor="middle">-0.065</text>
<text x="323.06" y="161.02" font-size="4.0" class="w" fill="#ffffff" text-anchor="middle">0.0073</text>
<text x="336.57" y="161.02" font-size="4.0" class="d" fill="#262626" text-anchor="middle">-0.071</text>
<text x="350.07" y="161.02" font-size="4.0" class="w" fill="#ffffff" text-anchor="middle">0.13</text>
<text x="363.58" y="161.02" font-size="4.0" class="d" fill="#262626" text-anchor="middle">-0.39</text>
<text x="377.09" y="161.02" font-size="4.0" class="w" fill="#ffffff" text-anchor="middle">0.97</text>
<text x="390.59" y="161.02" font-size="4.0" class="d" fill="#262626" text-anchor="middle">-0.098</text>
<text x="404.10" y="161.02" font-size="4.0" class="w" fill="#ffffff" text-anchor="middle">0.14</text>
<text x="417.61" y="161.02" font-size="4.0" class="d" fill="#262626" text-anchor="middle">-0.39</text>
<text x="309.55" y="177.46" font-size="4.0" class="w" fill="#ffffff" text-anchor="middle">0.95</text>
<text x="323.06" y="177.46" font-size="4.0" class="w" fill="#ffffff" text-anchor="middle">0.94</text>
<text x="336.57" y="177.46" font-size="4.0" class="w" fill="#ffffff" text-anchor="middle">0.96</text>
<text x="350.07" y="177.46" font-size="4.0" class="d" fill="#262626" text-anchor="middle">-0.96</text>
<text x="363.58" y="177.46" font-size="4.0" class="w" fill="#ffffff" text-anchor="middle">0.89</text>
<text x="377.09" y="177.46" font-size="4.0" class="w" fill="#ffffff" text-anchor="middle">0.1</text>
<text x="390.59" y="177.46" font-size="4.0" class="w" fill="#ffffff" text-anchor="middle">0.97</text>
<text x="404.10" y="177.46" font-size="4.0" class="d" fill="#262626" text-anchor="middle">-0.96</text>
<text x="417.61" y="177.46" font-size="4.0" class="w" fill="#ffffff" text-anchor="middle">0.89</text>
<text x="431.11" y="177.46" font-size="4.0" class="d" fill="#262626" text-anchor="middle">-0.054</text>
<text x="309.55" y="193.90" font-size="4.0" class="w" fill="#ffffff" text-anchor="middle">0.93</text>
<text x="323.06" y="193.90" font-size="4.0" class="w" fill="#ffffff" text-anchor="middle">0.93</text>
<text x="336.57" y="193.90" font-size="4.0" class="w" fill="#ffffff" text-anchor="middle">0.95</text>
<text x="350.07" y="193.90" font-size="4.0" class="d" fill="#262626" text-anchor="middle">-0.94</text>
<text x="363.58" y="193.90" font-size="4.0" class="w" fill="#ffffff" text-anchor="middle">0.85</text>
<text x="377.09" y="193.90" font-size="4.0" class="w" fill="#ffffff" text-anchor="middle">0.16</text>
<text x="390.59" y="193.90" font-size="4.0" class="w" fill="#ffffff" text-anchor="middle">0.95</text>
<text x="404.10" y="193.90" font-size="4.0" class="d" fill="#262626" text-anchor="middle">-0.94</text>
<text x="417.61" y="193.90" font-size="4.0" class="w" fill="#ffffff" text-anchor="middle">0.85</text>
<text x="431.11" y="193.90" font-size="4.0" class="w" fill="#ffffff" text-anchor="middle">0.0032</text>
<text x="444.62" y="193.90" font-size="4.0" class="w" fill="#ffffff" text-anchor="middle">0.94</text>
<text x="309.55" y="210.34" font-size="4.0" class="d" fill="#262626" text-anchor="middle">-0.95</text>
<text x="323.06" y="210.34" font-size="4.0" class="d" fill="#262626" text-anchor="middle">-0.93</text>
<text x="336.57" y="210.34" font-size="4.0" class="d" fill="#262626" text-anchor="middle">-0.96</text>
<text x="350.07" y="210.34" font-size="4.0" class="w" fill="#ffffff" text-anchor="middle">0.96</text>
<text x="363.58" y="210.34" font-size="4.0" class="d" fill="#262626" text-anchor="middle">-0.89</text>
<text x="377.09" y="210.34" font-size="4.0" class="d" fill="#262626" text-anchor="middle">-0.1</text>
<text x="390.59" y="210.34" font-size="4.0" class="d" fill="#262626" text-anchor="middle">-0.97</text>
<text x="404.10" y="210.34" font-size="4.0" class="w" fill="#ffffff" text-anchor="middle">0.96</text>
<text x="417.61" y="210.34" font-size="4.0" class="d" fill="#262626" text-anchor="middle">-0.89</text>
<text x="431.11" y="210.34" font-size="4.0" class="w" fill="#ffffff" text-anchor="middle">0.057</text>
<text x="444.62" y="210.34" font-size="4.0" class="d" fill="#262626" text-anchor="middle">-0.96</text>
<text x="458.13" y="210.34" font-size="4.0" class="d" fill="#262626" text-anchor="middle">-0.94</text>
<text x="309.55" y="226.78" font-size="4.0" class="d" fill="#262626" text-anchor="middle">-0.95</text>
<text x="323.06" y="226.78" font-size="4.0" class="d" fill="#262626" text-anchor="middle">-0.93</text>
<text x="336.57" y="226.78" font-size="4.0" class="d" fill="#262626" text-anchor="middle">-0.96</text>
<text x="350.07" y="226.78" font-size="4.0" class="w" fill="#ffffff" text-anchor="middle">0.96</text>
<text x="363.58" y="226.78" font-size="4.0" class="d" fill="#262626" text-anchor="middle">-0.89</text>
<text x="377.09" y="226.78" font-size="4.0" class="d" fill="#262626" text-anchor="middle">-0.097</text>
<text x="390.59" y="226.78" font-size="4.0" class="d" fill="#262626" text-anchor="middle">-0.97</text>
<text x="404.10" y="226.78" font-size="4.0" class="w" fill="#ffffff" text-anchor="middle">0.96</text>
<text x="417.61" y="226.78" font-size="4.0" class="d" fill="#262626" text-anchor="middle">-0.89</text>
<text x="431.11" y="226.78" font-size="4.0" class="w" fill="#ffffff" text-anchor="middle">0.057</text>
<text x="444.62" y="226.78" font-size="4.0" class="d" fill="#262626" text-anchor="middle">-0.95</text>
<text x="458.13" y="226.78" font-size="4.0" class="d" fill="#262626" text-anchor="middle">-0.94</text>
<text x="471.63" y="226.78" font-size="4.0" class="w" fill="#ffffff" text-anchor="middle">0.95</text>
<text x="309.55" y="243.22" font-size="4.0" class="d" fill="#262626" text-anchor="middle">-0.67</text>
<text x="323.06" y="243.22" font-size="4.0" class="d" fill="#262626" text-anchor="middle">-0.67</text>
<text x="336.57" y="243.22" font-size="4.0" class="d" fill="#262626" text-anchor="middle">-0.67</text>
<text x="350.07" y="243.22" font-size="4.0" class="w" fill="#ffffff" text-anchor="middle">0.66</text>
<text x="363.58" y="243.22" font-size="4.0" class="d" fill="#262626" text-anchor="middle">-0.56</text>
<text x="377.09" y="243.22" font-size="4.0" class="d" fill="#262626" text-anchor="middle">-0.2</text>
<text x="390.59" y="243.22" font-size="4.0" class="d" fill="#262626" text-anchor="middle">-0.67</text>
<text x="404.10" y="243.22" font-size="4.0" class="w" fill="#ffffff" text-anchor="middle">0.65</text>
<text x="417.61" y="243.22" font-size="4.0" class="d" fill="#262626" text-anchor="middle">-0.56</text>
<text x="431.11" y="243.22" font-size="4.0" class="d" fill="#262626" text-anchor="middle">-0.1</text>
<text x="444.62" y="243.22" font-size="4.0" class="d" fill="#262626" text-anchor="middle">-0.67</text>
<text x="458.13" y="243.22" font-size="4.0" class="d" fill="#262626" text-anchor="middle">-0.67</text>
<text x="471.63" y="243.22" font-size="4.0" class="w" fill="#ffffff" text-anchor="middle">0.66</text>
<text x="485.14" y="243.22" font-size="4.0" class="w" fill="#ffffff" text-anchor="middle">0.67</text>
<text x="309.55" y="256.50" font-size="4.1499999999999995" class="d" fill="#262626" text-anchor="middle">s2</text>
<text transform="translate(298.50,10.32) rotate(-90)" font-size="4.3" class="d" fill="#262626" text-anchor="end">s2</text>
<text x="323.06" y="256.50" font-size="4.1499999999999995" class="d" fill="#262626" text-anchor="middle">s3</text>
<text transform="translate(298.50,26.76) rotate(-90)" font-size="4.3" class="d" fill="#262626" text-anchor="end">s3</text>
<text x="336.57" y="256.50" font-size="4.1499999999999995" class="d" fill="#262626" text-anchor="middle">s4</text>
<text transform="translate(298.50,43.20) rotate(-90)" font-size="4.3" class="d" fill="#262626" text-anchor="end">s4</text>
<text x="350.07" y="256.50" font-size="4.1499999999999995" class="d" fill="#262626" text-anchor="middle">s7</text>
<text transform="translate(298.50,59.64) rotate(-90)" font-size="4.3" class="d" fill="#262626" text-anchor="end">s7</text>
<text x="363.58" y="256.50" font-size="4.1499999999999995" class="d" fill="#262626" text-anchor="middle">s8</text>
<text transform="translate(298.50,76.08) rotate(-90)" font-size="4.3" class="d" fill="#262626" text-anchor="end">s8</text>
<text x="377.09" y="256.50" font-size="4.1499999999999995" class="d" fill="#262626" text-anchor="middle">s9</text>
<text transform="translate(298.50,92.52) rotate(-90)" font-size="4.3" class="d" fill="#262626" text-anchor="end">s9</text>
<text x="390.59" y="256.50" font-size="4.1499999999999995" class="d" fill="#262626" text-anchor="middle">s11</text>
<text transform="translate(298.50,108.96) rotate(-90)" font-size="4.3" class="d" fill="#262626" text-anchor="end">s11</text>
<text x="404.10" y="256.50" font-size="4.1499999999999995" class="d" fill="#262626" text-anchor="middle">s12</text>
<text transform="translate(298.50,125.40) rotate(-90)" font-size="4.3" class="d" fill="#262626" text-anchor="end">s12</text>
<text x="417.61" y="256.50" font-size="4.1499999999999995" class="d" fill="#262626" text-anchor="middle">s13</text>
<text transform="translate(298.50,141.84) rotate(-90)" font-size="4.3" class="d" fill="#262626" text-anchor="end">s13</text>
<text x="431.11" y="256.50" font-size="4.1499999999999995" class="d" fill="#262626" text-anchor="middle">s14</text>
<text transform="translate(298.50,158.28) rotate(-90)" font-size="4.3" class="d" fill="#262626" text-anchor="end">s14</text>
<text x="444.62" y="256.50" font-size="4.1499999999999995" class="d" fill="#262626" text-anchor="middle">s15</text>
<text transform="translate(298.50,174.72) rotate(-90)" font-size="4.3" class="d" fill="#262626" text-anchor="end">s15</text>
<text x="458.13" y="256.50" font-size="4.1499999999999995" class="d" fill="#262626" text-anchor="middle">s17</text>
<text transform="translate(298.50,191.16) rotate(-90)" font-size="4.3" class="d" fill="#262626" text-anchor="end">s17</text>
<text x="471.63" y="256.50" font-size="4.1499999999999995" class="d" fill="#262626" text-anchor="middle">s20</text>
<text transform="translate(298.50,207.60) rotate(-90)" font-size="4.3" class="d" fill="#262626" text-anchor="end">s20</text>
<text x="485.14" y="256.50" font-size="4.1499999999999995" class="d" fill="#262626" text-anchor="middle">s21</text>
<text transform="translate(298.50,224.04) rotate(-90)" font-size="4.3" class="d" fill="#262626" text-anchor="end">s21</text>
<text x="498.65" y="256.50" font-size="4.1499999999999995" class="d" fill="#262626" text-anchor="middle">RUL</text>
<text transform="translate(298.50,240.48) rotate(-90)" font-size="4.3" class="d" fill="#262626" text-anchor="end">RUL</text>
<text x="533.3" y="30.13" font-size="4.3" class="d" fill="#262626">0.8</text>
<text x="533.3" y="80.09" font-size="4.3" class="d" fill="#262626">0.4</text>
<text x="533.3" y="130.05" font-size="4.3" class="d" fill="#262626">0.0</text>
<text x="533.3" y="180.01" font-size="4.3" class="d" fill="#262626">−0.4</text>
<text x="533.3" y="229.97" font-size="4.3" class="d" fill="#262626">−0.8</text>
</g>
</svg>
<div class="cap" style="left:91.8px;top:270.4px;">(a) Pearson Correlation</div>
<div class="cap" style="left:365.6px;top:270.9px;">(b) Spearman Correlation</div>
</body></html>
